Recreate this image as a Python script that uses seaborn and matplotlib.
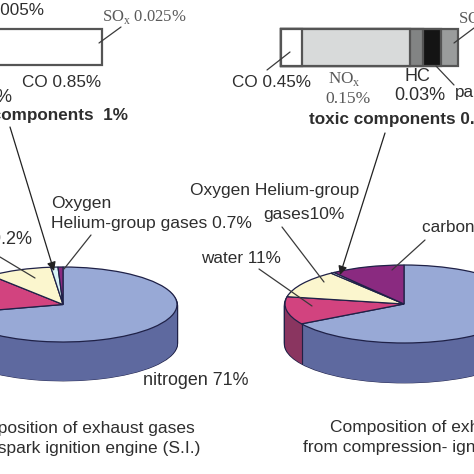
import numpy as np
import matplotlib
matplotlib.use("Agg")
import matplotlib.pyplot as plt
import seaborn as sns

sns.set_theme(style="white")
plt.rcParams["font.family"] = ["Liberation Sans", "DejaVu Sans"]
plt.rcParams["mathtext.fontset"] = "custom"
plt.rcParams["mathtext.rm"] = "Liberation Serif"

# ---- data ----
left_pie_names = ["nitrogen", "carbon dioxide", "water", "toxic components", "oxygen, helium-group gases"]
left_pie_values = [71, 18, 9.2, 1, 0.7]
right_pie_names = ["nitrogen", "water", "oxygen, helium-group gases", "toxic components", "carbon dioxide"]
right_pie_values = [66.5, 11.5, 11.5, 0.5, 10]
left_top = ["#98A9D6", "#D2437F", "#FBF6CE", "#D8F3F7", "#8A2A80"]
left_side = ["#5E699F", "#8A3560", "#BDB98F", "#9DB8BC", "#5C1C58"]
right_top = ["#98A9D6", "#D2437F", "#FBF6CE", "#D8F3F7", "#8A2A80"]
right_side = ["#5E699F", "#8A3560", "#BDB98F", "#9DB8BC", "#5C1C58"]

left_bar_shares = [100]
left_bar_colors = ["#FFFFFF"]
right_bar_shares = [12, 61, 7.5, 10, 9.5]   # drawn share of bar: CO, NOx, HC, particulates, SOx
right_bar_colors = ["#FFFFFF", "#D8DADA", "#828484", "#141414", "#9A9C9C"]

TEXT = "#2E2E2E"
SERIF = "#5A5A5A"
LINE = "#3A3A3A"
OUTLINE = "#1F2147"
W = 474

fig = plt.figure(figsize=(4.74, 4.74), dpi=100, facecolor="white")


def rect(x0, y0, x1, y1):
    """pixel box (y downwards) to figure fractions"""
    return [x0 / W, 1 - y1 / W, (x1 - x0) / W, (y1 - y0) / W]


def stacked_bar(box, shares, colors):
    ax = fig.add_axes(rect(*box))
    cum = np.cumsum(shares)
    for value, c in zip(cum[::-1], colors[::-1]):
        sns.barplot(x=[value], y=["exhaust"], color=c, width=1, orient="h", ax=ax,
                    edgecolor="#555555", linewidth=1.6, saturation=1)
    ax.set_xlim(0, cum[-1])
    ax.set_ylim(-0.5, 0.5)
    ax.axis("off")
    for p in ax.patches:
        p.set_clip_on(False)


def pie3d(cx, cy, rx, ry, depth, values, top, side):
    pad = 3
    ax = fig.add_axes(rect(cx - rx - pad, cy - ry - pad, cx + rx + pad, cy + ry + depth + pad))
    ax.patch.set_alpha(0)
    sy = 1.0 / ry
    sx = 1.0 / rx
    for d in np.arange(depth, 0, -1):
        ax.pie(values, startangle=90, counterclock=False, radius=1.01, center=(0, -d * sy),
               colors=[OUTLINE] * len(values), wedgeprops={"linewidth": 0})
    for d in np.arange(depth, 0, -1):
        ax.pie(values, startangle=90, counterclock=False, radius=1.0, center=(0, -d * sy),
               colors=side, wedgeprops={"linewidth": 0})
    fractions = np.cumsum(values) / np.sum(values)
    for f in fractions[:-1]:
        a = 2 * np.pi * f
        x, y = np.sin(a), np.cos(a)
        if y < 0:
            ax.plot([x, x], [y, y - depth * sy], color=OUTLINE, lw=0.8)
    ax.pie(values, startangle=90, counterclock=False, radius=1.0, center=(0, 0),
           colors=top, wedgeprops={"linewidth": 0.9, "edgecolor": OUTLINE})
    ax.set_aspect("auto")
    ax.set_xlim(-(rx + pad) * sx, (rx + pad) * sx)
    ax.set_ylim(-(ry + depth + pad) * sy, (ry + pad) * sy)
    ax.axis("off")


stacked_bar((-60, 29, 102, 65), left_bar_shares, left_bar_colors)
stacked_bar((281, 29, 458, 65.5), right_bar_shares, right_bar_colors)
pie3d(63, 304.5, 114, 37.5, 39, left_pie_values, left_top, left_side)
pie3d(404, 304, 119, 39, 40, right_pie_values, right_top, right_side)

# overlay in pixel coordinates for labels and leader lines
ov = fig.add_axes([0, 0, 1, 1])
ov.set_xlim(0, W)
ov.set_ylim(W, 0)
ov.axis("off")
ov.patch.set_alpha(0)

FS = 12.3
CAP = 12.5


def sans(x, y, s, ha="left", **kw):
    kw.setdefault("fontsize", FS)
    kw.setdefault("color", TEXT)
    ov.text(x, y, s, ha=ha, va="baseline", **kw)


def serif(x, y, s, ha="left", fs=12.3):
    ov.text(x, y, s, ha=ha, va="baseline", fontsize=fs, color=SERIF, family="Liberation Serif")


def leader(x0, y0, x1, y1, lw=0.9):
    ov.plot([x0, x1], [y0, y1], color=LINE, lw=lw, solid_capstyle="round")


def arrow(x0, y0, x1, y1):
    ov.annotate("", xy=(x1, y1), xytext=(x0, y0),
                arrowprops=dict(arrowstyle="-|>", color="#222222", lw=0.9,
                                mutation_scale=13, shrinkA=0, shrinkB=0))


# upper left
sans(44, 15, "particulates 0.005%", ha="right")
serif(102, 21, "SO$_{\\mathrm{x}}$ 0.025%", fs=12.0)
leader(121, 27, 99, 43)
sans(22, 87, "CO 0.85%")
sans(13, 102, "NO$_{\\mathrm{x}}$ 0.1%", ha="right", fontsize=13)
sans(128, 120, "toxic components  1%", ha="right", fontweight="bold")

# upper right
sans(311, 87, "CO 0.45%", ha="right")
leader(267, 70, 290, 52)
serif(328, 83, "NO$_{\\mathrm{x}}$")
serif(325, 103, "0.15%", fs=12.6)
sans(405, 81, "HC", fontsize=13)
sans(394, 100, "0.03%", fontsize=13)
sans(455, 97, "particulates")
leader(436, 66, 454, 85)
serif(458, 23, "SO$_{\\mathrm{x}}$ 0.025%", fs=12.0)
leader(474, 28, 454, 43)
sans(309, 124, "toxic components 0.65%", fontweight="bold")

# left pie
arrow(10, 127, 54, 271)
sans(51, 208, "Oxygen", fontsize=12.6)
sans(51, 228, "Helium-group gases 0.7%", fontsize=12.6)
leader(91, 235, 64, 269)
sans(32, 244, "water 9.2%", ha="right", fontsize=13)
leader(0, 257, 35, 278)
sans(143, 385, "nitrogen 71%", fontsize=12.9)

# right pie
arrow(385, 133, 340, 275)
sans(190, 195, "Oxygen Helium-group", fontsize=12.5)
sans(263, 219, "gases10%", fontsize=12.5)
leader(282, 227, 324, 282)
sans(281, 263, "water 11%", ha="right")
leader(259, 269, 312, 306)
sans(422, 232, "carbon dioxide 12%")
leader(425, 240, 392, 270)

# captions
sans(195, 433, "Composition of exhaust gases", ha="right", fontsize=CAP)
sans(200, 453, "from spark ignition engine (S.I.)", ha="right", fontsize=CAP)
sans(330, 432, "Composition of exhaust gases", fontsize=CAP)
sans(303, 452, "from compression- ignition engine (C.I.)", fontsize=CAP)

fig.savefig("out.png", dpi=100, facecolor="white")
